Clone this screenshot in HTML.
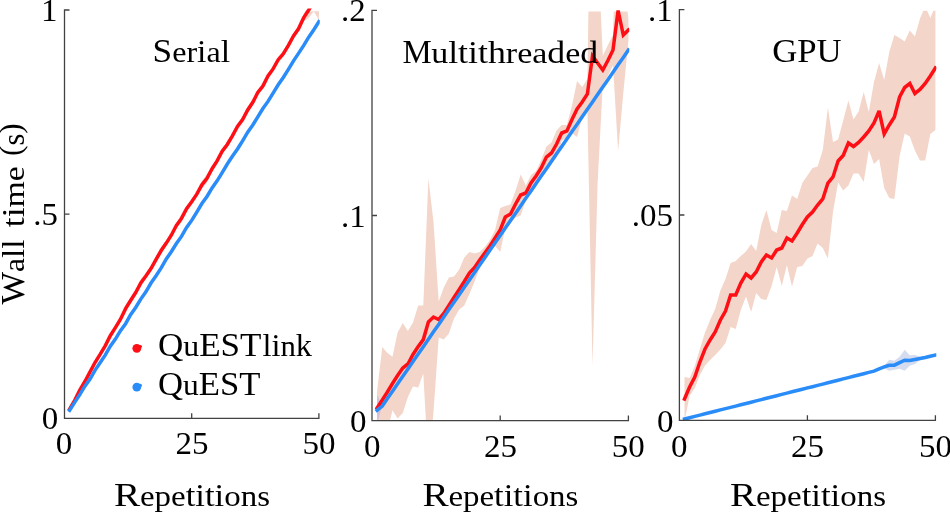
<!DOCTYPE html>
<html lang="en">
<head>
<meta charset="utf-8">
<title>Wall time vs repetitions: QuESTlink and QuEST</title>
<style>
html, body { margin: 0; padding: 0; background: #ffffff; }
body { width: 950px; height: 512px; overflow: hidden; font-family: "Liberation Serif", "DejaVu Serif", serif; }
svg { display: block; }
</style>
</head>
<body>
<svg width="950" height="512" viewBox="0 0 950 512">
<defs>
<clipPath id="c1"><rect x="62.5" y="11.2" width="260.4" height="407.2"/></clipPath>
<clipPath id="l1"><rect x="62.5" y="8.6" width="257.3" height="409.8"/></clipPath>
<clipPath id="c2"><rect x="370" y="11.6" width="262.4" height="409"/></clipPath>
<clipPath id="l2"><rect x="370" y="9" width="259.3" height="411.6"/></clipPath>
<clipPath id="c3"><rect x="677.4" y="10.8" width="262" height="409.6"/></clipPath>
<clipPath id="l3"><rect x="677.4" y="8.2" width="258.9" height="412.2"/></clipPath>
</defs>
<polygon points="69.6,406.8 74.7,398.1 79.8,387.8 84.9,378.8 89.9,369.8 95,360.3 100.1,351.8 105.2,342.8 110.3,333.3 115.4,325.4 120.5,316.4 125.6,305.1 130.6,297.9 135.7,290.1 140.8,279.1 145.9,273.4 151,266.1 156.1,256.3 161.2,246.5 166.3,240.5 171.3,232.8 176.4,222.7 181.5,214.2 186.6,205.7 191.7,199.4 196.8,191.6 201.9,181 207,173.9 212.1,165.9 217.1,158.5 222.2,148.5 227.3,141.1 232.4,133.1 237.5,124 242.6,116.5 247.7,106.4 252.8,99.7 257.8,90.1 262.9,82.8 268,73.2 273.1,66.5 278.2,57.1 283.3,50.4 288.4,42.5 293.5,33.6 298.5,26.2 303.6,14.9 308.7,1.7 313.8,-8.4 318.9,-34 318.9,20 313.8,11.2 308.7,18.3 303.6,20.9 298.5,31.4 293.5,38.4 288.4,48.1 283.3,57.2 278.2,62.3 273.1,71.3 268,78.8 262.9,89.2 257.8,94.9 252.8,104.9 247.7,113.6 242.6,122.5 237.5,128.8 232.4,138.7 227.3,147.9 222.2,153.7 217.1,163.3 212.1,171.5 207,182.7 201.9,188.6 196.8,196.8 191.7,204.2 186.6,211.7 181.5,222.6 176.4,228.3 171.3,237.6 166.3,245.7 161.2,254.5 156.1,262.3 151,270.9 145.9,278.6 140.8,286.7 135.7,294.9 130.6,303.1 125.6,312.3 120.5,322 115.4,329.8 110.3,338.1 105.2,348.8 100.1,357 95,364.7 89.9,374.6 84.9,384.2 79.8,392.6 74.7,402.5 69.6,411.6" fill="#f3d5c9" clip-path="url(#c1)"/>
<polygon points="161.2,267.9 166.3,258.7 171.3,249.9 176.4,243.1 181.5,236.4 186.6,227.5 191.7,220.4 196.8,212.1 201.9,203.5 207,196.5 212.1,187.9 217.1,180.8 222.2,172.6 227.3,164 232.4,155.9 237.5,146.8 242.6,138.2 247.7,131.6 252.8,125 252.8,125 247.7,132.8 242.6,143.4 237.5,151.2 232.4,156.7 227.3,164 222.2,172.6 217.1,180.8 212.1,187.9 207,196.5 201.9,203.5 196.8,212.1 191.7,220.4 186.6,227.5 181.5,236.4 176.4,243.9 171.3,253.5 166.3,259.3 161.2,267.9" fill="#d6dcf0" clip-path="url(#c1)"/>
<polyline points="69.6,409.2 74.7,400.3 79.8,390.2 84.9,381.5 89.9,372.2 95,362.5 100.1,354.4 105.2,345.8 110.3,335.7 115.4,327.6 120.5,319.2 125.6,308.7 130.6,300.5 135.7,292.5 140.8,282.9 145.9,276 151,268.5 156.1,259.3 161.2,250.5 166.3,243.1 171.3,235.2 176.4,225.5 181.5,218.4 186.6,208.7 191.7,201.8 196.8,194.2 201.9,184.8 207,178.3 212.1,168.7 217.1,160.9 222.2,151.1 227.3,144.5 232.4,135.9 237.5,126.4 242.6,119.5 247.7,110 252.8,102.3 257.8,92.5 262.9,86 268,76 273.1,68.9 278.2,59.7 283.3,53.8 288.4,45.3 293.5,36 298.5,28.8 303.6,17.9 308.7,10 313.8,1.4 318.9,-7" fill="none" stroke="#fe0f16" stroke-width="3.5" stroke-linejoin="miter" stroke-miterlimit="3" stroke-linecap="square" clip-path="url(#l1)"/>
<polyline points="69.6,410.3 74.7,402.4 79.8,394.6 84.9,386.1 89.9,379.3 95,370.3 100.1,362.8 105.2,355.2 110.3,346.2 115.4,339.1 120.5,330.7 125.6,323.7 130.6,314.7 135.7,307.5 140.8,299.1 145.9,291.8 151,283 156.1,275.7 161.2,267.9 166.3,259 171.3,251.7 176.4,243.5 181.5,236.4 186.6,227.5 191.7,220.4 196.8,212.1 201.9,203.5 207,196.5 212.1,187.9 217.1,180.8 222.2,172.6 227.3,164 232.4,156.3 237.5,149 242.6,140.8 247.7,132.2 252.8,125 257.8,116.9 262.9,108.5 268,101.4 273.1,93.1 278.2,84.8 283.3,77.5 288.4,69.4 293.5,60.9 298.5,53.4 303.6,45.6 308.7,37.2 313.8,29.7 318.9,21.6" fill="none" stroke="#2a8cf8" stroke-width="3.5" stroke-linejoin="miter" stroke-miterlimit="3" stroke-linecap="square" clip-path="url(#l1)"/>
<path d="M69.5,10H64.5V418.4H318.9V413.2M191.7,418.4V413.2M64.5,214.2H69.5" fill="none" stroke="#424242" stroke-width="1.3"/>
<polygon points="377.1,391 382.3,347 387.4,353 392.5,356.7 397.6,332.5 402.8,323 407.9,331 413,322.5 418.2,305.6 423.3,305.6 428.4,178.4 433.5,222 438.7,301.5 443.8,287.5 448.9,277.5 454,276.5 459.2,269.5 464.3,257.5 469.4,252 474.6,253.5 479.7,252 484.8,247 489.9,240 495.1,230 500.2,208 505.3,206 510.5,204.5 515.6,190.5 520.7,174.5 525.8,185.5 531,175 536.1,171 541.2,160 546.4,146.5 551.5,142.5 556.6,130.5 561.7,125 566.9,125 572,105.6 577.1,81 582.2,87 587.4,79 592.5,-254 597.6,-57 602.8,56 607.9,45 613,35 618.1,-130 623.3,-23 628.4,19 628.4,41 623.3,93 618.1,151 613,65 607.9,76 602.8,84 597.6,183 592.5,366 587.4,109 582.2,117 577.1,137 572,133.6 566.9,137 561.7,141 556.6,157.5 551.5,163.5 546.4,167.5 541.2,176 536.1,181 531,191 525.8,200.5 520.7,215.5 515.6,217.5 510.5,223.5 505.3,228 500.2,252 495.1,246 489.9,252 484.8,259 479.7,268 474.6,281.5 469.4,294 464.3,305.5 459.2,309.5 454,318.5 448.9,333.5 443.8,339.5 438.7,337.5 433.5,412 428.4,465.6 423.3,373.6 418.2,387.6 413,386.5 407.9,397 402.8,413 397.6,418.5 392.5,410.3 387.4,431 382.3,453 377.1,425" fill="#f3d5c9" clip-path="url(#c2)"/>
<polygon points="377.1,395 382.2,405 377.1,424" fill="#d2bfd9" clip-path="url(#c2)"/>
<polyline points="377.1,408 382.3,400 387.4,392 392.5,383.5 397.6,375.5 402.8,368 407.9,364 413,354.5 418.2,346.6 423.3,339.6 428.4,322 433.5,317 438.7,319.5 443.8,313.5 448.9,305.5 454,297.5 459.2,289.5 464.3,281.5 469.4,273 474.6,267.5 479.7,260 484.8,253 489.9,246 495.1,238 500.2,230 505.3,217 510.5,214 515.6,204 520.7,195 525.8,193 531,183 536.1,176 541.2,168 546.4,157 551.5,153 556.6,144 561.7,133 566.9,131 572,119.6 577.1,109 582.2,102 587.4,94 592.5,56 597.6,63 602.8,70 607.9,60.5 613,50 618.1,10.5 623.3,35 628.4,30" fill="none" stroke="#fe0f16" stroke-width="3.5" stroke-linejoin="miter" stroke-miterlimit="3" stroke-linecap="square" clip-path="url(#l2)"/>
<polyline points="377.1,410.2 382.3,406 387.4,398.6 392.5,391.2 397.6,383.7 402.8,376.3 407.9,368.9 413,361.5 418.2,354.1 423.3,346.7 428.4,339.2 433.5,331.8 438.7,324.4 443.8,317 448.9,309.6 454,302.2 459.2,294.7 464.3,287.3 469.4,279.9 474.6,272.5 479.7,265.1 484.8,257.7 489.9,250.2 495.1,242.8 500.2,235.4 505.3,228 510.5,220.6 515.6,213.2 520.7,205.7 525.8,198.3 531,190.9 536.1,183.5 541.2,176.1 546.4,168.7 551.5,161.2 556.6,153.8 561.7,146.4 566.9,139 572,131.6 577.1,124.2 582.2,116.7 587.4,109.3 592.5,101.9 597.6,94.5 602.8,87.1 607.9,79.7 613,72.2 618.1,64.8 623.3,57.4 628.4,50" fill="none" stroke="#2a8cf8" stroke-width="3.5" stroke-linejoin="miter" stroke-miterlimit="3" stroke-linecap="square" clip-path="url(#l2)"/>
<path d="M377,10.4H372V420.6H628.4V415.4M500.2,420.6V415.4M372,215.5H377" fill="none" stroke="#424242" stroke-width="1.3"/>
<polygon points="684.5,377 689.6,378 694.8,366 699.9,349 705,332.5 710.1,320 715.2,309 720.4,290.5 725.5,279 730.6,263 735.7,261 740.8,256 746,251.5 751.1,244 756.2,251 761.3,225 766.4,210 771.6,230 776.7,233 781.8,210 786.9,211 792,195.5 797.2,199 802.3,183 807.4,175.5 812.5,168 817.6,166.5 822.8,150 827.9,107.5 833,142 838.1,139.5 843.2,120.5 848.4,100.5 853.5,119.5 858.6,111.5 863.7,92 868.8,112 874,82 879.1,63 884.2,80 889.3,52 894.4,35 899.6,38 904.7,41.5 909.8,30.5 914.9,36.5 920,18.5 925.2,6.5 930.3,18 935.4,6 935.4,130 930.3,134 925.2,160.5 920,160.5 914.9,150.5 909.8,136.5 904.7,133.5 899.6,156 894.4,199 889.3,198 884.2,188 879.1,159 874,164 868.8,150 863.7,182 858.6,173.5 853.5,173.5 848.4,185.5 843.2,190.5 838.1,182.5 833,212 827.9,258.5 822.8,248 817.6,243.5 812.5,256 807.4,258.5 802.3,266 797.2,267 792,286.5 786.9,265 781.8,286 776.7,267 771.6,286 766.4,300 761.3,299 756.2,293 751.1,312 746,296.5 740.8,310 735.7,329 730.6,327 725.5,343 720.4,349.5 715.2,355 710.1,360 705,365.5 699.9,375 694.8,388 689.6,396 684.5,421" fill="#f3d5c9" clip-path="url(#c3)"/>
<polygon points="879.1,368.6 884.2,365.4 889.3,359.8 894.4,360.7 899.6,356.7 904.7,349.7 909.8,355.3 914.9,355 920,356.7 925.2,357.2 925.2,357.8 920,360.3 914.9,364 909.8,365.7 904.7,370.7 899.6,368.7 894.4,369.7 889.3,370.8 884.2,368.4 879.1,369.2" fill="#d6dcf0" clip-path="url(#c3)"/>
<polyline points="684.5,399 689.6,387 694.8,377 699.9,362 705,349 710.1,340 715.2,332 720.4,320 725.5,311 730.6,295 735.7,295 740.8,283 746,274 751.1,278 756.2,272 761.3,262 766.4,255 771.6,258 776.7,250 781.8,248 786.9,238 792,241 797.2,233 802.3,224.5 807.4,217 812.5,212 817.6,205 822.8,199 827.9,183 833,177 838.1,161 843.2,155.5 848.4,143 853.5,146.5 858.6,142.5 863.7,137 868.8,131 874,123 879.1,111 884.2,134 889.3,125 894.4,117 899.6,97 904.7,87.5 909.8,83.5 914.9,93.5 920,89.5 925.2,83.5 930.3,76 935.4,68" fill="none" stroke="#fe0f16" stroke-width="3.5" stroke-linejoin="miter" stroke-miterlimit="3" stroke-linecap="square" clip-path="url(#l3)"/>
<polyline points="684.5,419 689.6,417.7 694.8,416.4 699.9,415.1 705,413.8 710.1,412.5 715.2,411.2 720.4,409.9 725.5,408.6 730.6,407.4 735.7,406.1 740.8,404.8 746,403.5 751.1,402.2 756.2,400.9 761.3,399.6 766.4,398.3 771.6,397 776.7,395.7 781.8,394.4 786.9,393.1 792,391.8 797.2,390.5 802.3,389.2 807.4,387.9 812.5,386.7 817.6,385.4 822.8,384.1 827.9,382.8 833,381.5 838.1,380.2 843.2,378.9 848.4,377.6 853.5,376.3 858.6,375 863.7,373.7 868.8,372.4 874,371.1 879.1,368.9 884.2,366.9 889.3,365.3 894.4,365.2 899.6,362.7 904.7,360.2 909.8,360.5 914.9,359.5 920,358.5 925.2,357.5 930.3,356.2 935.4,355" fill="none" stroke="#2a8cf8" stroke-width="3.5" stroke-linejoin="miter" stroke-miterlimit="3" stroke-linecap="square" clip-path="url(#l3)"/>
<path d="M684.4,9.6H679.4V420.4H935.4V415.2M807.4,420.4V415.2M679.4,215H684.4" fill="none" stroke="#424242" stroke-width="1.3"/>
<g font-family="'Liberation Serif', 'DejaVu Serif', serif" fill="#000">
<text x="152.6" y="62" font-size="32" text-anchor="start" textLength="77.5" lengthAdjust="spacingAndGlyphs"><tspan font-size="33">S</tspan><tspan font-size="30">er</tspan><tspan font-size="31.6">i</tspan><tspan font-size="30">a</tspan><tspan font-size="31.6">l</tspan></text>
<text x="402.6" y="62.5" font-size="32" text-anchor="start" textLength="29.2" lengthAdjust="spacingAndGlyphs"><tspan font-size="33">M</tspan></text>
<text x="431.2" y="62.5" font-size="32" text-anchor="start" textLength="167" lengthAdjust="spacingAndGlyphs"><tspan font-size="30">u</tspan><tspan font-size="31.6">ltith</tspan><tspan font-size="30">rea</tspan><tspan font-size="31.6">d</tspan><tspan font-size="30">e</tspan><tspan font-size="31.6">d</tspan></text>
<text x="772.2" y="62" font-size="32" text-anchor="start" textLength="69.5" lengthAdjust="spacingAndGlyphs"><tspan font-size="33">GPU</tspan></text>
<text x="114" y="505.7" font-size="32" text-anchor="start" textLength="26.2" lengthAdjust="spacingAndGlyphs"><tspan font-size="33">R</tspan></text>
<text x="140" y="505.7" font-size="32" text-anchor="start" textLength="130" lengthAdjust="spacingAndGlyphs"><tspan font-size="30">epe</tspan><tspan font-size="31.6">titi</tspan><tspan font-size="30">ons</tspan></text>
<text x="422.4" y="506" font-size="32" text-anchor="start" textLength="26.2" lengthAdjust="spacingAndGlyphs"><tspan font-size="33">R</tspan></text>
<text x="448.4" y="506" font-size="32" text-anchor="start" textLength="130" lengthAdjust="spacingAndGlyphs"><tspan font-size="30">epe</tspan><tspan font-size="31.6">titi</tspan><tspan font-size="30">ons</tspan></text>
<text x="730" y="505.7" font-size="32" text-anchor="start" textLength="26.2" lengthAdjust="spacingAndGlyphs"><tspan font-size="33">R</tspan></text>
<text x="756" y="505.7" font-size="32" text-anchor="start" textLength="130" lengthAdjust="spacingAndGlyphs"><tspan font-size="30">epe</tspan><tspan font-size="31.6">titi</tspan><tspan font-size="30">ons</tspan></text>
<g fill="#fe0f16"><circle cx="136.8" cy="348.3" r="4.4"/><circle cx="140.3" cy="346.6" r="1.7"/></g>
<g fill="#2a8cf8"><circle cx="136.8" cy="387.1" r="4.4"/><circle cx="140.3" cy="385.4" r="1.7"/></g>
<text x="158" y="356.3" font-size="32" text-anchor="start" textLength="103.5" lengthAdjust="spacingAndGlyphs"><tspan font-size="33">Q</tspan><tspan font-size="30">u</tspan><tspan font-size="33">EST</tspan></text>
<text x="262.4" y="356.3" font-size="32" text-anchor="start" textLength="49.6" lengthAdjust="spacingAndGlyphs"><tspan font-size="31.6">li</tspan><tspan font-size="30">n</tspan><tspan font-size="31.6">k</tspan></text>
<text x="158" y="395" font-size="32" text-anchor="start" textLength="102.5" lengthAdjust="spacingAndGlyphs"><tspan font-size="33">Q</tspan><tspan font-size="30">u</tspan><tspan font-size="33">EST</tspan></text>
<text transform="translate(24.3,304.6) rotate(-90)" font-size="32" textLength="65" lengthAdjust="spacingAndGlyphs"><tspan font-size="33">W</tspan><tspan font-size="30">a</tspan><tspan font-size="31.6">ll</tspan></text>
<text transform="translate(24.3,227.2) rotate(-90)" font-size="32" textLength="61" lengthAdjust="spacingAndGlyphs"><tspan font-size="31.6">ti</tspan><tspan font-size="30">me</tspan></text>
<text transform="translate(24.3,155.9) rotate(-90)" font-size="32" textLength="32.7" lengthAdjust="spacingAndGlyphs"><tspan dy="-3.3">(</tspan><tspan dy="3.3" font-size="31">s</tspan><tspan dy="-3.3">)</tspan></text>
<text x="57.6" y="20.5" font-size="30.5" text-anchor="end" textLength="16.5" lengthAdjust="spacingAndGlyphs">1</text>
<text x="57.8" y="224.8" font-size="30.5" text-anchor="end" textLength="24.6" lengthAdjust="spacingAndGlyphs">.5</text>
<text x="58.2" y="429.3" font-size="30.5" text-anchor="end" textLength="16.5" lengthAdjust="spacingAndGlyphs">0</text>
<text x="64.1" y="454.1" font-size="30.5" text-anchor="middle" textLength="16.5" lengthAdjust="spacingAndGlyphs">0</text>
<text x="191.9" y="454.1" font-size="30.5" text-anchor="middle" textLength="33" lengthAdjust="spacingAndGlyphs">25</text>
<text x="319" y="454.1" font-size="30.5" text-anchor="middle" textLength="33" lengthAdjust="spacingAndGlyphs">50</text>
<text x="365.6" y="21" font-size="30.5" text-anchor="end" textLength="24.6" lengthAdjust="spacingAndGlyphs">.2</text>
<text x="365.6" y="226.9" font-size="30.5" text-anchor="end" textLength="24.6" lengthAdjust="spacingAndGlyphs">.1</text>
<text x="366.4" y="431.9" font-size="30.5" text-anchor="end" textLength="16.5" lengthAdjust="spacingAndGlyphs">0</text>
<text x="372.3" y="456.7" font-size="30.5" text-anchor="middle" textLength="16.5" lengthAdjust="spacingAndGlyphs">0</text>
<text x="500.5" y="456.7" font-size="30.5" text-anchor="middle" textLength="33" lengthAdjust="spacingAndGlyphs">25</text>
<text x="628.3" y="456.7" font-size="30.5" text-anchor="middle" textLength="33" lengthAdjust="spacingAndGlyphs">50</text>
<text x="672.7" y="20.5" font-size="30.5" text-anchor="end" textLength="24.6" lengthAdjust="spacingAndGlyphs">.1</text>
<text x="672.9" y="226" font-size="30.5" text-anchor="end" textLength="41.2" lengthAdjust="spacingAndGlyphs">.05</text>
<text x="673.4" y="431.9" font-size="30.5" text-anchor="end" textLength="16.5" lengthAdjust="spacingAndGlyphs">0</text>
<text x="679.3" y="456.7" font-size="30.5" text-anchor="middle" textLength="16.5" lengthAdjust="spacingAndGlyphs">0</text>
<text x="807.5" y="456.7" font-size="30.5" text-anchor="middle" textLength="33" lengthAdjust="spacingAndGlyphs">25</text>
<text x="935.6" y="456.7" font-size="30.5" text-anchor="middle" textLength="33" lengthAdjust="spacingAndGlyphs">50</text>
</g>
</svg>
</body>
</html>
